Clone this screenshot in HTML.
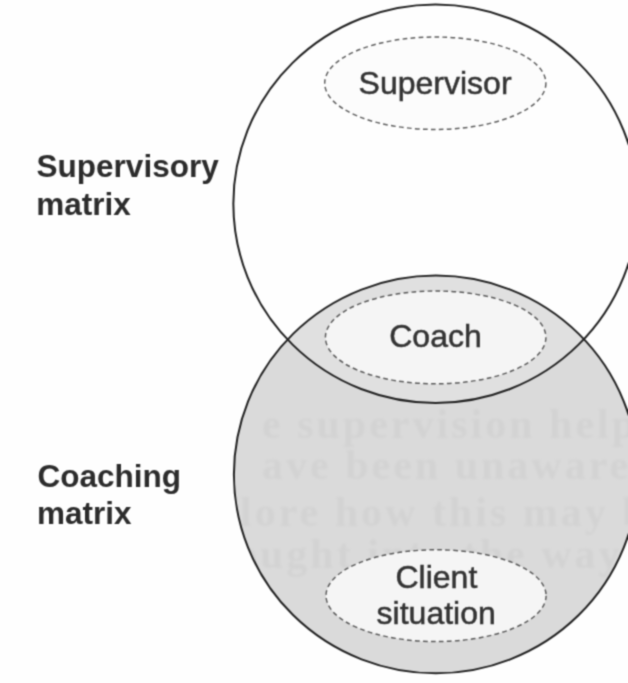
<!DOCTYPE html>
<html>
<head>
<meta charset="utf-8">
<style>
html,body{margin:0;padding:0;background:#fff;width:628px;height:683px;overflow:hidden;}
svg{display:block;}
#wrap{width:628px;height:683px;}
text{font-family:"Liberation Sans", sans-serif;fill:#333;}
.bl text{font-family:"Liberation Serif", serif;font-weight:bold;font-size:42px;letter-spacing:3px;fill:#d3d3d3;}
.lbl{font-weight:bold;font-size:31.5px;fill:#2c2c2c;}
.el{font-size:32px;fill:#333;stroke:#333;stroke-width:0.5px;}
</style>
</head>
<body>
<div id="wrap">
<svg width="628" height="683" viewBox="0 0 628 683">
  <defs><filter id="soft" x="0" y="0" width="628" height="683" filterUnits="userSpaceOnUse" color-interpolation-filters="sRGB"><feConvolveMatrix order="3" kernelMatrix="1 3 1 3 9 3 1 3 1" divisor="25" edgeMode="duplicate"/></filter></defs>
  <g filter="url(#soft)">
  <rect x="0" y="0" width="628" height="683" fill="#fefefe"/>
  <!-- grey circle fill -->
  <ellipse cx="435.9" cy="474.45" rx="202" ry="198.85" fill="#dadada"/>
  <!-- faint show-through text -->
  <filter id="bf" x="-5%" y="-20%" width="110%" height="140%"><feGaussianBlur stdDeviation="1.2"/></filter>
  <clipPath id="gc"><ellipse cx="435.9" cy="474.45" rx="202" ry="198.85"/></clipPath>
  <g clip-path="url(#gc)"><g class="bl" filter="url(#bf)">
    <text x="262" y="438">e supervision help</text>
    <text x="262" y="479">ave been unaware of</text>
    <text x="240" y="526">lore how this may be</text>
    <text x="236" y="568">ought into the way</text>
  </g></g>
  <ellipse cx="435.55" cy="203.75" rx="202.2" ry="199.25" fill="#fff" fill-opacity="0.18"/>
  <!-- ellipses -->
  <ellipse cx="435.3" cy="83.25" rx="110.6" ry="46.2" fill="#fcfcfc" stroke="#5e5e5e" stroke-width="1.45" stroke-dasharray="4.7 3.3"/>
  <ellipse cx="435.65" cy="337.4" rx="110.25" ry="46.4" fill="#f5f5f5" stroke="#5a5a5a" stroke-width="1.45" stroke-dasharray="4.7 3.3"/>
  <ellipse cx="436.05" cy="595.65" rx="110.05" ry="45.9" fill="#f5f5f5" stroke="#5a5a5a" stroke-width="1.45" stroke-dasharray="4.7 3.3"/>
  <!-- circle outlines -->
  <ellipse cx="435.55" cy="203.75" rx="202.2" ry="199.25" fill="none" stroke="#222" stroke-width="2"/>
  <ellipse cx="435.9" cy="474.45" rx="202" ry="198.85" fill="none" stroke="#222" stroke-width="2"/>
  <!-- texts -->
  <text class="el" x="435.1" y="93.6" text-anchor="middle">Supervisor</text>
  <text class="el" x="435.5" y="347.2" text-anchor="middle">Coach</text>
  <text class="el" x="436.4" y="587.7" text-anchor="middle">Client</text>
  <text class="el" x="436.2" y="624.3" text-anchor="middle">situation</text>
  <text class="lbl" x="36.6" y="177.3">Supervisory</text>
  <text class="lbl" x="36.2" y="215.2">matrix</text>
  <text class="lbl" x="37.6" y="486.5">Coaching</text>
  <text class="lbl" x="37" y="524.2">matrix</text>
  </g>
</svg>
</div>
</body>
</html>
